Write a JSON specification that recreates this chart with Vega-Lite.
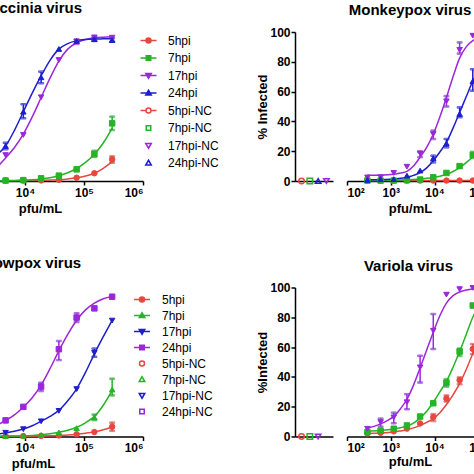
{
"$schema": "https://vega.github.io/schema/vega-lite/v6.json",
"padding": {"left": -93, "top": 0, "right": -48, "bottom": 0},
"background": "white",
"config": {
  "font": "Liberation Sans",
  "view": {"stroke": null},
  "axis": {"domainColor": "black", "domainWidth": 1.5, "tickColor": "black", "tickWidth": 1.5, "tickSize": 4, "labelColor": "black", "labelFont": "Liberation Sans", "labelFontSize": 12, "labelFontWeight": "bold", "labelPadding": 2, "labelOverlap": false, "titleColor": "black", "titleFont": "Liberation Sans", "titleFontSize": 13, "titleFontWeight": "bold", "grid": false},
  "title": {"font": "Liberation Sans", "fontSize": 15, "fontWeight": "bold", "color": "black", "anchor": "middle", "frame": "group", "baseline": "alphabetic"},
  "legend": {"labelFont": "Liberation Sans", "labelFontSize": 12, "labelColor": "black", "symbolSize": 25, "symbolStrokeWidth": 1.5, "rowPadding": 5.5}
},
"datasets": {
  "vacPts": [
    {"series":"5hpi","x":300000,"y":14.5,"lo":12.3,"hi":16.5},
    {"series":"5hpi","x":150000,"y":5.2},
    {"series":"5hpi","x":75000,"y":2.2},
    {"series":"5hpi","x":37500,"y":0.8},
    {"series":"5hpi","x":18750,"y":0.4},
    {"series":"5hpi","x":9375,"y":0.3},
    {"series":"5hpi","x":4688,"y":0.3},
    {"series":"7hpi","x":300000,"y":38.7,"lo":34.2,"hi":43.2},
    {"series":"7hpi","x":150000,"y":18.1,"lo":16.3,"hi":20.3},
    {"series":"7hpi","x":75000,"y":7.8},
    {"series":"7hpi","x":37500,"y":3.6},
    {"series":"7hpi","x":18750,"y":1.8},
    {"series":"7hpi","x":9375,"y":0.6},
    {"series":"7hpi","x":4688,"y":0.3},
    {"series":"17hpi","x":300000,"y":96.2},
    {"series":"17hpi","x":150000,"y":96.4},
    {"series":"17hpi","x":75000,"y":93.5,"lo":92,"hi":95},
    {"series":"17hpi","x":37500,"y":81.2},
    {"series":"17hpi","x":18750,"y":56.2},
    {"series":"17hpi","x":9375,"y":30.9},
    {"series":"17hpi","x":4688,"y":17.4},
    {"series":"24hpi","x":300000,"y":94.6,"lo":93.5,"hi":95.8},
    {"series":"24hpi","x":150000,"y":95.2,"lo":94,"hi":96.5},
    {"series":"24hpi","x":75000,"y":94},
    {"series":"24hpi","x":37500,"y":88.6},
    {"series":"24hpi","x":18750,"y":69.6,"lo":65.6,"hi":73.4},
    {"series":"24hpi","x":9375,"y":46.5,"lo":42.1,"hi":51.5},
    {"series":"24hpi","x":4688,"y":23.5,"lo":21.3,"hi":25.7}
  ],
  "vacFit": [
    {"series":"5hpi","x":3315,"y":0.1},{"series":"5hpi","x":4688,"y":0.1},{"series":"5hpi","x":6629,"y":0.15},{"series":"5hpi","x":9375,"y":0.2},{"series":"5hpi","x":13258,"y":0.3},{"series":"5hpi","x":18750,"y":0.4},{"series":"5hpi","x":26517,"y":0.6},{"series":"5hpi","x":37500,"y":0.9},{"series":"5hpi","x":53033,"y":1.4},{"series":"5hpi","x":75000,"y":2.2},{"series":"5hpi","x":106066,"y":3.4},{"series":"5hpi","x":150000,"y":5.2},{"series":"5hpi","x":212132,"y":8.5},{"series":"5hpi","x":300000,"y":13},
    {"series":"7hpi","x":3315,"y":0.2},{"series":"7hpi","x":4688,"y":0.3},{"series":"7hpi","x":6629,"y":0.4},{"series":"7hpi","x":9375,"y":0.6},{"series":"7hpi","x":13258,"y":0.9},{"series":"7hpi","x":18750,"y":1.4},{"series":"7hpi","x":26517,"y":2.2},{"series":"7hpi","x":37500,"y":3.5},{"series":"7hpi","x":53033,"y":5.5},{"series":"7hpi","x":75000,"y":8.4},{"series":"7hpi","x":106066,"y":12.5},{"series":"7hpi","x":150000,"y":18},{"series":"7hpi","x":212132,"y":25.5},{"series":"7hpi","x":300000,"y":35.5},
    {"series":"17hpi","x":3315,"y":9},{"series":"17hpi","x":4688,"y":15.5},{"series":"17hpi","x":6629,"y":22.5},{"series":"17hpi","x":9375,"y":31.5},{"series":"17hpi","x":13258,"y":43},{"series":"17hpi","x":18750,"y":56},{"series":"17hpi","x":26517,"y":69},{"series":"17hpi","x":37500,"y":80.5},{"series":"17hpi","x":53033,"y":88.5},{"series":"17hpi","x":75000,"y":92.8},{"series":"17hpi","x":106066,"y":95},{"series":"17hpi","x":150000,"y":96},{"series":"17hpi","x":212132,"y":96.5},{"series":"17hpi","x":300000,"y":96.8},
    {"series":"24hpi","x":3315,"y":17.5},{"series":"24hpi","x":4688,"y":23.5},{"series":"24hpi","x":6629,"y":34},{"series":"24hpi","x":9375,"y":46.5},{"series":"24hpi","x":13258,"y":59},{"series":"24hpi","x":18750,"y":70.5},{"series":"24hpi","x":26517,"y":81},{"series":"24hpi","x":37500,"y":88.5},{"series":"24hpi","x":53033,"y":92.2},{"series":"24hpi","x":75000,"y":94.2},{"series":"24hpi","x":106066,"y":95},{"series":"24hpi","x":150000,"y":95.3},{"series":"24hpi","x":212132,"y":95.4},{"series":"24hpi","x":300000,"y":95.5}
  ],
  "mpxPts": [
    {"series":"5hpi","x":293,"y":0.3},{"series":"5hpi","x":586,"y":0.3},{"series":"5hpi","x":1172,"y":0.3},{"series":"5hpi","x":2344,"y":0.3},{"series":"5hpi","x":4688,"y":0.3},{"series":"5hpi","x":9375,"y":0.3},{"series":"5hpi","x":18750,"y":0.3},{"series":"5hpi","x":37500,"y":0.3},{"series":"5hpi","x":75000,"y":0.3},
    {"series":"7hpi","x":293,"y":0.3},{"series":"7hpi","x":586,"y":0.3},{"series":"7hpi","x":1172,"y":0.3},{"series":"7hpi","x":2344,"y":0.5},{"series":"7hpi","x":4688,"y":1},{"series":"7hpi","x":9375,"y":2.5},{"series":"7hpi","x":18750,"y":5.4},{"series":"7hpi","x":37500,"y":10},{"series":"7hpi","x":75000,"y":17.5,"lo":15.5,"hi":19.5},
    {"series":"17hpi","x":293,"y":2.4},{"series":"17hpi","x":586,"y":2.6},{"series":"17hpi","x":1172,"y":5.4},{"series":"17hpi","x":2344,"y":9.6},{"series":"17hpi","x":4688,"y":18.6,"lo":16,"hi":19.5},{"series":"17hpi","x":9375,"y":31.5,"lo":28.2,"hi":33.8},{"series":"17hpi","x":18750,"y":53.5,"lo":50,"hi":57},{"series":"17hpi","x":37500,"y":88,"lo":85.5,"hi":93},{"series":"17hpi","x":75000,"y":97.5},
    {"series":"24hpi","x":293,"y":0.7},{"series":"24hpi","x":586,"y":1.2},{"series":"24hpi","x":1172,"y":1.3},{"series":"24hpi","x":2344,"y":3.6},{"series":"24hpi","x":4688,"y":7},{"series":"24hpi","x":9375,"y":15.3,"lo":12.5,"hi":17},{"series":"24hpi","x":18750,"y":25.2,"lo":22.6,"hi":28.2},{"series":"24hpi","x":37500,"y":45,"lo":42.8,"hi":49.4},{"series":"24hpi","x":75000,"y":67,"lo":60.6,"hi":75}
  ],
  "mpxFit": [
    {"series":"5hpi","x":293,"y":0.3},{"series":"5hpi","x":2344,"y":0.3},{"series":"5hpi","x":18750,"y":0.3},{"series":"5hpi","x":106066,"y":0.3},
    {"series":"7hpi","x":293,"y":0.3},{"series":"7hpi","x":586,"y":0.4},{"series":"7hpi","x":1172,"y":0.5},{"series":"7hpi","x":1657,"y":0.6},{"series":"7hpi","x":2344,"y":0.8},{"series":"7hpi","x":3315,"y":1.0},{"series":"7hpi","x":4688,"y":1.3},{"series":"7hpi","x":6629,"y":1.8},{"series":"7hpi","x":9375,"y":2.4},{"series":"7hpi","x":13258,"y":3.2},{"series":"7hpi","x":18750,"y":4.5},{"series":"7hpi","x":26517,"y":6.4},{"series":"7hpi","x":37500,"y":9},{"series":"7hpi","x":53033,"y":12.3},{"series":"7hpi","x":75000,"y":16.3},{"series":"7hpi","x":106066,"y":21},
    {"series":"17hpi","x":293,"y":3.8},{"series":"17hpi","x":586,"y":3.9},{"series":"17hpi","x":1172,"y":4.5},{"series":"17hpi","x":1657,"y":5.3},{"series":"17hpi","x":2344,"y":6.5},{"series":"17hpi","x":3315,"y":10},{"series":"17hpi","x":4688,"y":16},{"series":"17hpi","x":6629,"y":22.5},{"series":"17hpi","x":9375,"y":31.5},{"series":"17hpi","x":13258,"y":43},{"series":"17hpi","x":18750,"y":56},{"series":"17hpi","x":26517,"y":70},{"series":"17hpi","x":37500,"y":82.5},{"series":"17hpi","x":53033,"y":90},{"series":"17hpi","x":75000,"y":94.2},{"series":"17hpi","x":106066,"y":96},
    {"series":"24hpi","x":293,"y":0.8},{"series":"24hpi","x":586,"y":0.9},{"series":"24hpi","x":1172,"y":1.3},{"series":"24hpi","x":1657,"y":1.8},{"series":"24hpi","x":2344,"y":2.5},{"series":"24hpi","x":3315,"y":3.8},{"series":"24hpi","x":4688,"y":5.6},{"series":"24hpi","x":6629,"y":8.8},{"series":"24hpi","x":9375,"y":13.6},{"series":"24hpi","x":13258,"y":19.5},{"series":"24hpi","x":18750,"y":26},{"series":"24hpi","x":26517,"y":35.5},{"series":"24hpi","x":37500,"y":46},{"series":"24hpi","x":53033,"y":56.5},{"series":"24hpi","x":75000,"y":67},{"series":"24hpi","x":106066,"y":75}
  ],
  "mpxNC": [
    {"series":"5hpi-NC","y":0},{"series":"7hpi-NC","y":0},{"series":"24hpi-NC","y":0},{"series":"17hpi-NC","y":0}
  ],
  "cowPts": [
    {"series":"5hpi","x":300000,"y":6.6,"lo":3.8,"hi":9.3},
    {"series":"5hpi","x":150000,"y":3},
    {"series":"5hpi","x":75000,"y":1.5},
    {"series":"5hpi","x":37500,"y":0.7},
    {"series":"5hpi","x":18750,"y":0.4},
    {"series":"5hpi","x":9375,"y":0.3},
    {"series":"5hpi","x":4688,"y":0.3},
    {"series":"7hpi","x":300000,"y":31.5,"lo":27.6,"hi":38.8},
    {"series":"7hpi","x":150000,"y":12.8,"lo":11,"hi":14.7},
    {"series":"7hpi","x":75000,"y":5.6},
    {"series":"7hpi","x":37500,"y":2.7},
    {"series":"7hpi","x":18750,"y":1},
    {"series":"7hpi","x":9375,"y":0.5},
    {"series":"7hpi","x":4688,"y":0.3},
    {"series":"17hpi","x":300000,"y":77.8},
    {"series":"17hpi","x":150000,"y":56.1,"lo":53.5,"hi":59},
    {"series":"17hpi","x":75000,"y":31.8},
    {"series":"17hpi","x":37500,"y":17.2},
    {"series":"17hpi","x":18750,"y":10.2},
    {"series":"17hpi","x":9375,"y":4.9},
    {"series":"17hpi","x":4688,"y":2.5},
    {"series":"24hpi","x":300000,"y":93.8},
    {"series":"24hpi","x":150000,"y":86},
    {"series":"24hpi","x":75000,"y":79.8,"lo":76.8,"hi":82.7},
    {"series":"24hpi","x":37500,"y":58.6,"lo":51.3,"hi":64.1},
    {"series":"24hpi","x":18750,"y":33.5,"lo":30.5,"hi":36.1},
    {"series":"24hpi","x":9375,"y":19.9},
    {"series":"24hpi","x":4688,"y":10.8}
  ],
  "cowFit": [
    {"series":"5hpi","x":3315,"y":0.2},{"series":"5hpi","x":9375,"y":0.25},{"series":"5hpi","x":18750,"y":0.4},{"series":"5hpi","x":26517,"y":0.5},{"series":"5hpi","x":37500,"y":0.7},{"series":"5hpi","x":53033,"y":1.0},{"series":"5hpi","x":75000,"y":1.5},{"series":"5hpi","x":106066,"y":2.2},{"series":"5hpi","x":150000,"y":3.1},{"series":"5hpi","x":212132,"y":4.5},{"series":"5hpi","x":300000,"y":6.4},
    {"series":"7hpi","x":3315,"y":0.2},{"series":"7hpi","x":4688,"y":0.25},{"series":"7hpi","x":6629,"y":0.3},{"series":"7hpi","x":9375,"y":0.45},{"series":"7hpi","x":13258,"y":0.7},{"series":"7hpi","x":18750,"y":1.1},{"series":"7hpi","x":26517,"y":1.8},{"series":"7hpi","x":37500,"y":2.8},{"series":"7hpi","x":53033,"y":4.2},{"series":"7hpi","x":75000,"y":6.2},{"series":"7hpi","x":106066,"y":9.2},{"series":"7hpi","x":150000,"y":13.5},{"series":"7hpi","x":212132,"y":21},{"series":"7hpi","x":300000,"y":31},
    {"series":"17hpi","x":3315,"y":1.6},{"series":"17hpi","x":4688,"y":2.4},{"series":"17hpi","x":6629,"y":3.5},{"series":"17hpi","x":9375,"y":5.0},{"series":"17hpi","x":13258,"y":7.2},{"series":"17hpi","x":18750,"y":10.2},{"series":"17hpi","x":26517,"y":13.5},{"series":"17hpi","x":37500,"y":17.5},{"series":"17hpi","x":53033,"y":24},{"series":"17hpi","x":75000,"y":32},{"series":"17hpi","x":106066,"y":43},{"series":"17hpi","x":150000,"y":55.5},{"series":"17hpi","x":212132,"y":67},{"series":"17hpi","x":300000,"y":78},
    {"series":"24hpi","x":3315,"y":7.5},{"series":"24hpi","x":4688,"y":10.8},{"series":"24hpi","x":6629,"y":14.5},{"series":"24hpi","x":9375,"y":19.8},{"series":"24hpi","x":13258,"y":26},{"series":"24hpi","x":18750,"y":34.5},{"series":"24hpi","x":26517,"y":45.5},{"series":"24hpi","x":37500,"y":57.5},{"series":"24hpi","x":53033,"y":68.5},{"series":"24hpi","x":75000,"y":78},{"series":"24hpi","x":106066,"y":85},{"series":"24hpi","x":150000,"y":89.5},{"series":"24hpi","x":212132,"y":92.5},{"series":"24hpi","x":300000,"y":94}
  ],
  "varPts": [
    {"series":"5hpi","x":293,"y":2.1},{"series":"5hpi","x":586,"y":2.5},{"series":"5hpi","x":1172,"y":3.5},{"series":"5hpi","x":2344,"y":5.3},{"series":"5hpi","x":4688,"y":8.8},{"series":"5hpi","x":9375,"y":13,"lo":10.4,"hi":15},{"series":"5hpi","x":18750,"y":25.5,"lo":23.5,"hi":27.5},{"series":"5hpi","x":37500,"y":37.8,"lo":35.1,"hi":39.6},{"series":"5hpi","x":75000,"y":58.8,"lo":55.3,"hi":62},
    {"series":"7hpi","x":293,"y":3},{"series":"7hpi","x":586,"y":3.8},{"series":"7hpi","x":1172,"y":5.2},{"series":"7hpi","x":2344,"y":7.4},{"series":"7hpi","x":4688,"y":13.4},{"series":"7hpi","x":9375,"y":22.3},{"series":"7hpi","x":18750,"y":36.1,"lo":33.5,"hi":38.5},{"series":"7hpi","x":37500,"y":57,"lo":54,"hi":59},{"series":"7hpi","x":75000,"y":87.9},
    {"series":"17hpi","x":293,"y":5.2},{"series":"17hpi","x":586,"y":9.6,"lo":6.6,"hi":12},{"series":"17hpi","x":1172,"y":12.8,"lo":8.9,"hi":16},{"series":"17hpi","x":2344,"y":23,"lo":18.3,"hi":28.4},{"series":"17hpi","x":4688,"y":46.4,"lo":36.2,"hi":54.2},{"series":"17hpi","x":9375,"y":71,"lo":58.7,"hi":82.2},{"series":"17hpi","x":18750,"y":95.2},{"series":"17hpi","x":37500,"y":98.9},{"series":"17hpi","x":75000,"y":99.7}
  ],
  "varFit": [
    {"series":"5hpi","x":293,"y":2},{"series":"5hpi","x":586,"y":2.3},{"series":"5hpi","x":1172,"y":3},{"series":"5hpi","x":1657,"y":3.7},{"series":"5hpi","x":2344,"y":4.5},{"series":"5hpi","x":3315,"y":5.8},{"series":"5hpi","x":4688,"y":7.5},{"series":"5hpi","x":6629,"y":9.5},{"series":"5hpi","x":9375,"y":12},{"series":"5hpi","x":13258,"y":16},{"series":"5hpi","x":18750,"y":21.5},{"series":"5hpi","x":26517,"y":28},{"series":"5hpi","x":37500,"y":35.5},{"series":"5hpi","x":53033,"y":45},{"series":"5hpi","x":75000,"y":55.5},{"series":"5hpi","x":106066,"y":64},
    {"series":"7hpi","x":293,"y":3.5},{"series":"7hpi","x":586,"y":4},{"series":"7hpi","x":1172,"y":5},{"series":"7hpi","x":1657,"y":5.9},{"series":"7hpi","x":2344,"y":7},{"series":"7hpi","x":3315,"y":9},{"series":"7hpi","x":4688,"y":12.5},{"series":"7hpi","x":6629,"y":17},{"series":"7hpi","x":9375,"y":23},{"series":"7hpi","x":13258,"y":30},{"series":"7hpi","x":18750,"y":37},{"series":"7hpi","x":26517,"y":46.5},{"series":"7hpi","x":37500,"y":57},{"series":"7hpi","x":53033,"y":68.5},{"series":"7hpi","x":75000,"y":80},{"series":"7hpi","x":106066,"y":88.5},
    {"series":"17hpi","x":293,"y":5.5},{"series":"17hpi","x":414,"y":6.8},{"series":"17hpi","x":586,"y":8.5},{"series":"17hpi","x":829,"y":10.7},{"series":"17hpi","x":1172,"y":13.5},{"series":"17hpi","x":1657,"y":18.5},{"series":"17hpi","x":2344,"y":25},{"series":"17hpi","x":3315,"y":34.5},{"series":"17hpi","x":4688,"y":46},{"series":"17hpi","x":6629,"y":58},{"series":"17hpi","x":9375,"y":70},{"series":"17hpi","x":13258,"y":81},{"series":"17hpi","x":18750,"y":89.5},{"series":"17hpi","x":26517,"y":94.5},{"series":"17hpi","x":37500,"y":97},{"series":"17hpi","x":53033,"y":98.3},{"series":"17hpi","x":75000,"y":99},{"series":"17hpi","x":106066,"y":99.3}
  ],
  "varNC": [
    {"series":"5hpi-NC","y":0},{"series":"7hpi-NC","y":0},{"series":"17hpi-NC","y":0}
  ]
},
"columns": 2,
"bounds": "flush",
"spacing": {"row": 106.5, "column": 152},
"resolve": {
  "scale": {"stroke": "independent", "fill": "independent", "shape": "independent"},
  "legend": {"stroke": "independent", "fill": "independent", "shape": "independent"}
},
"concat": [
  {
    "width": 236, "height": 149,
    "title": {"text": "Vaccinia virus", "offset": 16.3, "dx": 7},
    "layer": [
      {"layer": [
        {"data": {"name": "vacFit"}, "mark": {"type": "line", "strokeWidth": 1.5, "interpolate": "monotone"},
         "encoding": {
           "x": {"field": "x", "type": "quantitative", "scale": {"type": "log", "domain": [100, 1000000], "nice": false},
                 "axis": {"values": [10000, 100000, 1000000], "labelExpr": "datum.value < 500 ? '10²' : datum.value < 5000 ? '10³' : datum.value < 50000 ? '10⁴' : datum.value < 500000 ? '10⁵' : '10⁶'", "title": "pfu/mL", "titleX": 133, "titlePadding": 4}},
           "y": {"field": "y", "type": "quantitative", "scale": {"domain": [0, 100], "nice": false}, "axis": null},
           "stroke": {"field": "series", "type": "nominal", "legend": null,
                      "scale": {"domain": ["5hpi","7hpi","17hpi","24hpi","5hpi-NC","7hpi-NC","17hpi-NC","24hpi-NC"], "range": ["#E8473D","#25B425","#9B27DB","#1E1ECF","#E8473D","#25B425","#9B27DB","#1E1ECF"]}}
         }},
        {"data": {"name": "vacPts"}, "transform": [{"filter": "isValid(datum.lo)"}], "mark": {"type": "rule", "strokeWidth": 1.5},
         "encoding": {"x": {"field": "x", "type": "quantitative"}, "y": {"field": "lo", "type": "quantitative"}, "y2": {"field": "hi"}, "stroke": {"field": "series", "type": "nominal", "legend": null}}},
        {"data": {"name": "vacPts"}, "transform": [{"filter": "isValid(datum.lo)"}], "mark": {"type": "tick", "orient": "horizontal", "size": 5, "thickness": 1.5},
         "encoding": {"x": {"field": "x", "type": "quantitative"}, "y": {"field": "lo", "type": "quantitative"}, "stroke": {"field": "series", "type": "nominal", "legend": null}}},
        {"data": {"name": "vacPts"}, "transform": [{"filter": "isValid(datum.hi)"}], "mark": {"type": "tick", "orient": "horizontal", "size": 5, "thickness": 1.5},
         "encoding": {"x": {"field": "x", "type": "quantitative"}, "y": {"field": "hi", "type": "quantitative"}, "stroke": {"field": "series", "type": "nominal", "legend": null}}},
        {"data": {"name": "vacPts"}, "mark": {"type": "point", "size": 30, "strokeWidth": 1, "opacity": 1},
         "encoding": {
           "x": {"field": "x", "type": "quantitative"},
           "y": {"field": "y", "type": "quantitative"},
           "stroke": {"field": "series", "type": "nominal", "legend": null},
           "fill": {"field": "series", "type": "nominal", "legend": null, "scale": {"domain": ["5hpi","7hpi","17hpi","24hpi","5hpi-NC","7hpi-NC","17hpi-NC","24hpi-NC"], "range": ["#E8473D","#25B425","#9B27DB","#1E1ECF","transparent","transparent","transparent","transparent"]}},
           "shape": {"field": "series", "type": "nominal", "legend": null, "scale": {"domain": ["5hpi","7hpi","17hpi","24hpi","5hpi-NC","7hpi-NC","17hpi-NC","24hpi-NC"], "range": ["circle","square","triangle-down","triangle-up","circle","square","triangle-down","triangle-up"]}}
         }}
      ]},
      {"data": {"name": "vacPts"}, "mark": {"type": "point", "size": 30, "opacity": 0},
       "encoding": {
         "x": {"field": "x", "type": "quantitative"},
         "y": {"field": "y", "type": "quantitative"},
         "stroke": {"field": "series", "type": "nominal",
                    "scale": {"domain": ["5hpi","7hpi","17hpi","24hpi","5hpi-NC","7hpi-NC","17hpi-NC","24hpi-NC"], "range": ["#E8473D","#25B425","#9B27DB","#1E1ECF","#E8473D","#25B425","#9B27DB","#1E1ECF"]},
                    "legend": {"orient": "right", "offset": -3, "padding": 2.5, "title": null, "labelOffset": 13.5, "symbolOpacity": 1}},
         "fill": {"field": "series", "type": "nominal",
                  "scale": {"domain": ["5hpi","7hpi","17hpi","24hpi","5hpi-NC","7hpi-NC","17hpi-NC","24hpi-NC"], "range": ["#E8473D","#25B425","#9B27DB","#1E1ECF","transparent","transparent","transparent","transparent"]},
                  "legend": {"orient": "right", "offset": -3, "padding": 2.5, "title": null, "labelOffset": 13.5, "symbolOpacity": 1}},
         "shape": {"field": "series", "type": "nominal",
                   "scale": {"domain": ["5hpi","7hpi","17hpi","24hpi","5hpi-NC","7hpi-NC","17hpi-NC","24hpi-NC"], "range": ["M-3.2,0H3.2M1,0A1,1,0,1,1,-1,0A1,1,0,1,1,1,0Z","M-3.2,0H3.2M-0.9,-0.9H0.9V0.9H-0.9Z","M-3.2,0H3.2M0,1.1L1.1,-0.8H-1.1Z","M-3.2,0H3.2M0,-1.1L1.1,0.8H-1.1Z","M-3.2,0H-1M1,0H3.2M1,0A1,1,0,1,1,-1,0A1,1,0,1,1,1,0Z","M-0.9,-0.9H0.9V0.9H-0.9Z","M0,1.1L1.1,-0.8H-1.1Z","M0,-1.1L1.1,0.8H-1.1Z"]},
                   "legend": {"orient": "right", "offset": -3, "padding": 2.5, "title": null, "labelOffset": 13.5, "symbolOpacity": 1}}
       }}
    ],
    "resolve": {"scale": {"stroke": "independent", "fill": "independent", "shape": "independent"}}
  },
  {
    "width": 227, "height": 149,
    "title": {"text": "Monkeypox virus", "offset": 8.5, "dx": 1.5},
    "layer": [
      {"data": {"name": "mpxNC"}, "mark": {"type": "point", "size": 30, "strokeWidth": 1.5, "opacity": 1},
       "encoding": {
         "x": {"field": "series", "type": "nominal", "scale": {"type": "point", "domain": ["5hpi-NC","7hpi-NC","24hpi-NC","17hpi-NC"], "range": [0, 38], "padding": 0.79}, "axis": {"orient": "bottom", "labels": false, "ticks": false, "title": null}},
         "y": {"field": "y", "type": "quantitative", "scale": {"domain": [0, 100], "nice": false}, "axis": {"values": [0,20,40,60,80,100], "tickCount": 6, "labelOverlap": false, "title": "% Infected", "titlePadding": 0, "labelPadding": 1}},
         "stroke": {"field": "series", "type": "nominal", "scale": {"domain": ["5hpi","7hpi","17hpi","24hpi","5hpi-NC","7hpi-NC","17hpi-NC","24hpi-NC"], "range": ["#E8473D","#25B425","#9B27DB","#1E1ECF","#E8473D","#25B425","#9B27DB","#1E1ECF"]}, "legend": null},
         "fill": {"field": "series", "type": "nominal", "scale": {"domain": ["5hpi","7hpi","17hpi","24hpi","5hpi-NC","7hpi-NC","17hpi-NC","24hpi-NC"], "range": ["#E8473D","#25B425","#9B27DB","#1E1ECF","transparent","transparent","transparent","transparent"]}, "legend": null},
         "shape": {"field": "series", "type": "nominal", "scale": {"domain": ["5hpi","7hpi","17hpi","24hpi","5hpi-NC","7hpi-NC","17hpi-NC","24hpi-NC"], "range": ["circle","square","triangle-down","triangle-up","circle","square","triangle-down","triangle-up"]}, "legend": null}
       }},
      {"layer": [
        {"data": {"name": "mpxFit"}, "mark": {"type": "line", "strokeWidth": 1.5, "interpolate": "monotone"},
         "encoding": {
           "x": {"field": "x", "type": "quantitative", "scale": {"type": "log", "domain": [100, 1000000], "range": [52, 227], "nice": false},
                 "axis": {"orient": "bottom", "values": [100, 1000, 10000, 100000], "labelExpr": "datum.value < 500 ? '10²' : datum.value < 5000 ? '10³' : datum.value < 50000 ? '10⁴' : datum.value < 500000 ? '10⁵' : '10⁶'", "title": "pfu/mL", "titleX": 115, "titlePadding": 4}},
           "y": {"field": "y", "type": "quantitative", "axis": {"values": [0,20,40,60,80,100], "tickCount": 6, "labelOverlap": false, "title": "% Infected", "titlePadding": 0, "labelPadding": 1}},
           "stroke": {"field": "series", "type": "nominal", "legend": null}
         }},
        {"data": {"name": "mpxPts"}, "transform": [{"filter": "isValid(datum.lo)"}], "mark": {"type": "rule", "strokeWidth": 1.5},
         "encoding": {"x": {"field": "x", "type": "quantitative"}, "y": {"field": "lo", "type": "quantitative"}, "y2": {"field": "hi"}, "stroke": {"field": "series", "type": "nominal", "legend": null}}},
        {"data": {"name": "mpxPts"}, "transform": [{"filter": "isValid(datum.lo)"}], "mark": {"type": "tick", "orient": "horizontal", "size": 5, "thickness": 1.5},
         "encoding": {"x": {"field": "x", "type": "quantitative"}, "y": {"field": "lo", "type": "quantitative"}, "stroke": {"field": "series", "type": "nominal", "legend": null}}},
        {"data": {"name": "mpxPts"}, "transform": [{"filter": "isValid(datum.hi)"}], "mark": {"type": "tick", "orient": "horizontal", "size": 5, "thickness": 1.5},
         "encoding": {"x": {"field": "x", "type": "quantitative"}, "y": {"field": "hi", "type": "quantitative"}, "stroke": {"field": "series", "type": "nominal", "legend": null}}},
        {"data": {"name": "mpxPts"}, "mark": {"type": "point", "size": 30, "strokeWidth": 1, "opacity": 1},
         "encoding": {
           "x": {"field": "x", "type": "quantitative"},
           "y": {"field": "y", "type": "quantitative"},
           "stroke": {"field": "series", "type": "nominal", "legend": null},
           "fill": {"field": "series", "type": "nominal", "legend": null},
           "shape": {"field": "series", "type": "nominal", "legend": null}
         }}
      ]}
    ],
    "resolve": {"scale": {"x": "independent"}, "axis": {"x": "independent"}}
  },
  {
    "width": 236, "height": 149,
    "title": {"text": "Cowpox virus", "offset": 16.5, "dx": 7},
    "layer": [
      {"layer": [
        {"data": {"name": "cowFit"}, "mark": {"type": "line", "strokeWidth": 1.5, "interpolate": "monotone"},
         "encoding": {
           "x": {"field": "x", "type": "quantitative", "scale": {"type": "log", "domain": [100, 1000000], "nice": false},
                 "axis": {"values": [10000, 100000, 1000000], "labelExpr": "datum.value < 500 ? '10²' : datum.value < 5000 ? '10³' : datum.value < 50000 ? '10⁴' : datum.value < 500000 ? '10⁵' : '10⁶'", "title": "pfu/mL", "titleX": 126, "titlePadding": 4}},
           "y": {"field": "y", "type": "quantitative", "scale": {"domain": [0, 100], "nice": false}, "axis": null},
           "stroke": {"field": "series", "type": "nominal", "legend": null,
                      "scale": {"domain": ["5hpi","7hpi","17hpi","24hpi","5hpi-NC","7hpi-NC","17hpi-NC","24hpi-NC"], "range": ["#E8473D","#25B425","#1E1ECF","#9B27DB","#E8473D","#25B425","#1E1ECF","#9B27DB"]}}
         }},
        {"data": {"name": "cowPts"}, "transform": [{"filter": "isValid(datum.lo)"}], "mark": {"type": "rule", "strokeWidth": 1.5},
         "encoding": {"x": {"field": "x", "type": "quantitative"}, "y": {"field": "lo", "type": "quantitative"}, "y2": {"field": "hi"}, "stroke": {"field": "series", "type": "nominal", "legend": null}}},
        {"data": {"name": "cowPts"}, "transform": [{"filter": "isValid(datum.lo)"}], "mark": {"type": "tick", "orient": "horizontal", "size": 5, "thickness": 1.5},
         "encoding": {"x": {"field": "x", "type": "quantitative"}, "y": {"field": "lo", "type": "quantitative"}, "stroke": {"field": "series", "type": "nominal", "legend": null}}},
        {"data": {"name": "cowPts"}, "transform": [{"filter": "isValid(datum.hi)"}], "mark": {"type": "tick", "orient": "horizontal", "size": 5, "thickness": 1.5},
         "encoding": {"x": {"field": "x", "type": "quantitative"}, "y": {"field": "hi", "type": "quantitative"}, "stroke": {"field": "series", "type": "nominal", "legend": null}}},
        {"data": {"name": "cowPts"}, "mark": {"type": "point", "size": 30, "strokeWidth": 1, "opacity": 1},
         "encoding": {
           "x": {"field": "x", "type": "quantitative"},
           "y": {"field": "y", "type": "quantitative"},
           "stroke": {"field": "series", "type": "nominal", "legend": null},
           "fill": {"field": "series", "type": "nominal", "legend": null, "scale": {"domain": ["5hpi","7hpi","17hpi","24hpi","5hpi-NC","7hpi-NC","17hpi-NC","24hpi-NC"], "range": ["#E8473D","#25B425","#1E1ECF","#9B27DB","transparent","transparent","transparent","transparent"]}},
           "shape": {"field": "series", "type": "nominal", "legend": null, "scale": {"domain": ["5hpi","7hpi","17hpi","24hpi","5hpi-NC","7hpi-NC","17hpi-NC","24hpi-NC"], "range": ["circle","triangle-up","triangle-down","square","circle","triangle-up","triangle-down","square"]}}
         }}
      ]},
      {"data": {"name": "cowPts"}, "mark": {"type": "point", "size": 30, "opacity": 0},
       "encoding": {
         "x": {"field": "x", "type": "quantitative"},
         "y": {"field": "y", "type": "quantitative"},
         "stroke": {"field": "series", "type": "nominal",
                    "scale": {"domain": ["5hpi","7hpi","17hpi","24hpi","5hpi-NC","7hpi-NC","17hpi-NC","24hpi-NC"], "range": ["#E8473D","#25B425","#1E1ECF","#9B27DB","#E8473D","#25B425","#1E1ECF","#9B27DB"]},
                    "legend": {"orient": "right", "offset": -13, "padding": 6, "title": null, "labelOffset": 14, "rowPadding": 4, "symbolOpacity": 1}},
         "fill": {"field": "series", "type": "nominal",
                  "scale": {"domain": ["5hpi","7hpi","17hpi","24hpi","5hpi-NC","7hpi-NC","17hpi-NC","24hpi-NC"], "range": ["#E8473D","#25B425","#1E1ECF","#9B27DB","transparent","transparent","transparent","transparent"]},
                  "legend": {"orient": "right", "offset": -13, "padding": 6, "title": null, "labelOffset": 14, "rowPadding": 4, "symbolOpacity": 1}},
         "shape": {"field": "series", "type": "nominal",
                   "scale": {"domain": ["5hpi","7hpi","17hpi","24hpi","5hpi-NC","7hpi-NC","17hpi-NC","24hpi-NC"], "range": ["M-3.2,0H3.2M1,0A1,1,0,1,1,-1,0A1,1,0,1,1,1,0Z","M-3.2,0H3.2M0,-1.1L1.1,0.8H-1.1Z","M-3.2,0H3.2M0,1.1L1.1,-0.8H-1.1Z","M-3.2,0H3.2M-0.9,-0.9H0.9V0.9H-0.9Z","M1,0A1,1,0,1,1,-1,0A1,1,0,1,1,1,0Z","M0,-1.1L1.1,0.8H-1.1Z","M0,1.1L1.1,-0.8H-1.1Z","M-0.9,-0.9H0.9V0.9H-0.9Z"]},
                   "legend": {"orient": "right", "offset": -13, "padding": 6, "title": null, "labelOffset": 14, "rowPadding": 4, "symbolOpacity": 1}}
       }}
    ],
    "resolve": {"scale": {"stroke": "independent", "fill": "independent", "shape": "independent"}}
  },
  {
    "width": 227, "height": 149,
    "title": {"text": "Variola virus", "offset": 7.7},
    "layer": [
      {"data": {"name": "varNC"}, "mark": {"type": "point", "size": 30, "strokeWidth": 1.5, "opacity": 1},
       "encoding": {
         "x": {"field": "series", "type": "nominal", "scale": {"type": "point", "domain": ["5hpi-NC","7hpi-NC","17hpi-NC","24hpi-NC"], "range": [0, 38], "padding": 0.79}, "axis": {"orient": "bottom", "labels": false, "ticks": false, "title": null}},
         "y": {"field": "y", "type": "quantitative", "scale": {"domain": [0, 100], "nice": false}, "axis": {"values": [0,20,40,60,80,100], "tickCount": 6, "labelOverlap": false, "title": "%Infected", "titlePadding": 0, "labelPadding": 1}},
         "stroke": {"field": "series", "type": "nominal", "scale": {"domain": ["5hpi","7hpi","17hpi","24hpi","5hpi-NC","7hpi-NC","17hpi-NC","24hpi-NC"], "range": ["#E8473D","#25B425","#9B27DB","#1E1ECF","#E8473D","#25B425","#9B27DB","#1E1ECF"]}, "legend": null},
         "fill": {"field": "series", "type": "nominal", "scale": {"domain": ["5hpi","7hpi","17hpi","24hpi","5hpi-NC","7hpi-NC","17hpi-NC","24hpi-NC"], "range": ["#E8473D","#25B425","#9B27DB","#1E1ECF","transparent","transparent","transparent","transparent"]}, "legend": null},
         "shape": {"field": "series", "type": "nominal", "scale": {"domain": ["5hpi","7hpi","17hpi","24hpi","5hpi-NC","7hpi-NC","17hpi-NC","24hpi-NC"], "range": ["circle","square","triangle-down","triangle-up","circle","square","triangle-down","triangle-up"]}, "legend": null}
       }},
      {"layer": [
        {"data": {"name": "varFit"}, "mark": {"type": "line", "strokeWidth": 1.5, "interpolate": "monotone"},
         "encoding": {
           "x": {"field": "x", "type": "quantitative", "scale": {"type": "log", "domain": [100, 1000000], "range": [52, 227], "nice": false},
                 "axis": {"orient": "bottom", "values": [100, 1000, 10000, 100000], "labelExpr": "datum.value < 500 ? '10²' : datum.value < 5000 ? '10³' : datum.value < 50000 ? '10⁴' : datum.value < 500000 ? '10⁵' : '10⁶'", "title": "pfu/mL", "titleX": 115, "titlePadding": 2}},
           "y": {"field": "y", "type": "quantitative", "axis": {"values": [0,20,40,60,80,100], "tickCount": 6, "labelOverlap": false, "title": "%Infected", "titlePadding": 0, "labelPadding": 1}},
           "stroke": {"field": "series", "type": "nominal", "legend": null}
         }},
        {"data": {"name": "varPts"}, "transform": [{"filter": "isValid(datum.lo)"}], "mark": {"type": "rule", "strokeWidth": 1.5},
         "encoding": {"x": {"field": "x", "type": "quantitative"}, "y": {"field": "lo", "type": "quantitative"}, "y2": {"field": "hi"}, "stroke": {"field": "series", "type": "nominal", "legend": null}}},
        {"data": {"name": "varPts"}, "transform": [{"filter": "isValid(datum.lo)"}], "mark": {"type": "tick", "orient": "horizontal", "size": 5, "thickness": 1.5},
         "encoding": {"x": {"field": "x", "type": "quantitative"}, "y": {"field": "lo", "type": "quantitative"}, "stroke": {"field": "series", "type": "nominal", "legend": null}}},
        {"data": {"name": "varPts"}, "transform": [{"filter": "isValid(datum.hi)"}], "mark": {"type": "tick", "orient": "horizontal", "size": 5, "thickness": 1.5},
         "encoding": {"x": {"field": "x", "type": "quantitative"}, "y": {"field": "hi", "type": "quantitative"}, "stroke": {"field": "series", "type": "nominal", "legend": null}}},
        {"data": {"name": "varPts"}, "mark": {"type": "point", "size": 30, "strokeWidth": 1, "opacity": 1},
         "encoding": {
           "x": {"field": "x", "type": "quantitative"},
           "y": {"field": "y", "type": "quantitative"},
           "stroke": {"field": "series", "type": "nominal", "legend": null},
           "fill": {"field": "series", "type": "nominal", "legend": null},
           "shape": {"field": "series", "type": "nominal", "legend": null}
         }}
      ]}
    ],
    "resolve": {"scale": {"x": "independent"}, "axis": {"x": "independent"}}
  }
]
}
